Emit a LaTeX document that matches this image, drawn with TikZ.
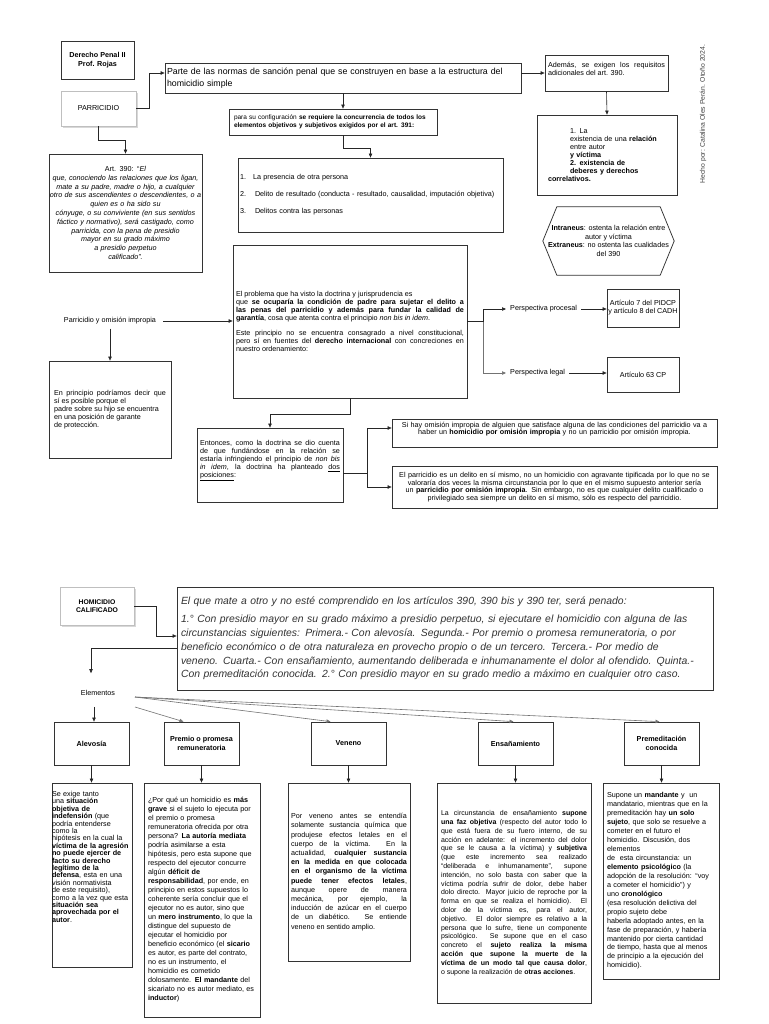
\documentclass[tikz,border=0pt]{standalone}
\usepackage{fontspec}
\setmainfont{Liberation Sans}
\usetikzlibrary{arrows.meta, positioning, calc, shadows}
\setlength{\parindent}{0pt}

\tikzset{
  caja/.style={draw=black!80, line width=0.75pt, inner sep=2pt, align=center,
    font=\fontsize{7.2}{8}\selectfont},
  sombra/.style={caja, draw=black!25, fill=white,
    drop shadow={shadow xshift=1.5pt, shadow yshift=-1.8pt, opacity=0.3}},
  elem/.style={caja, minimum width=75pt, minimum height=43pt,
    font=\fontsize{7.2}{9}\selectfont\bfseries},
  flecha/.style={draw=black!85, line width=0.6pt, -{Triangle[length=4pt, width=3.4pt]}},
  rama/.style={flecha, draw=black!55},
  texto/.style={inner sep=1pt, font=\fontsize{7.2}{8}\selectfont},
}

\begin{document}
\begin{tikzpicture}[x=1pt, y=-1pt]
\useasboundingbox[fill=white] (0,0) rectangle (768,1024);

% parricidio
\node[caja, minimum width=73pt, minimum height=38pt, font=\fontsize{7.2}{9}\selectfont\bfseries] (curso) at (97.5,60) {Derecho Penal II\\Prof. Rojas};
\node[sombra, minimum width=75pt, minimum height=35pt] (parr) at (98.5,108.5) {PARRICIDIO};
\node[caja, minimum width=153pt, minimum height=118pt, text width=153pt, inner xsep=0pt, font=\fontsize{7.2}{8.8}\selectfont] (art) at (125.5,213) {Art. 390: “\textit{El}\\ \itshape que, conociendo las relaciones que los ligan,\\mate a su padre, madre o hijo, a cualquier\\otro de sus ascendientes o descendientes, o a\\quien es o ha sido su\\cónyuge, o su conviviente (en sus sentidos\\fáctico y normativo), será castigado, como\\parricida, con la pena de presidio\\mayor en su grado máximo\\a presidio perpetuo\\calificado”.};
\node[caja, minimum width=356pt, minimum height=30pt, text width=352pt, align=left, font=\fontsize{8.8}{12}\selectfont] (titulo) at (343,78) {Parte de las normas de sanción penal que se construyen en base a la estructura del\\homicidio simple};
\node[caja, minimum width=123pt, minimum height=36pt, text width=117pt, align=justify] (ademas) at (606.5,73) {Además, se exigen los requisitos\linebreak adicionales del art. 390.\\[1pt]\mbox{}};
\node[caja, minimum width=140pt, minimum height=80pt, text width=118pt, align=left, font=\fontsize{7.2}{7.9}\selectfont] (requisitos) at (607,155) {\leftskip=22pt 1. La\\existencia de una \textbf{relación}\\entre autor\\\textbf{y víctima}\\\textbf{2. existencia de}\\\textbf{deberes y derechos}\\\textbf{correlativos.}};
\node[texto, rotate=90, text=black!75, font=\fontsize{6.8}{8}\selectfont] (credito) at (703,114) {Hecho por: Catalina Oles Perán. Otoño 2024.};
\node[minimum width=131pt, minimum height=68pt, inner sep=0pt, align=center, font=\fontsize{7.2}{8.7}\selectfont] (intra) at (608.5,241) {\textbf{Intraneus}: ostenta la relación entre\\autor y víctima\\\textbf{Extraneus}: no ostenta las cualidades\\del 390};
\draw[draw=black!80, line width=0.75pt] (intra.west) -- ([xshift=14pt]intra.north west) -- ([xshift=-14pt]intra.north east) -- (intra.east) -- ([xshift=-14pt]intra.south east) -- ([xshift=14pt]intra.south west) -- cycle;

\node[caja, minimum width=208pt, minimum height=26pt, text width=198pt, align=left, font=\fontsize{6.5}{7.8}\selectfont] (configura) at (333,122) {para su configuración \textbf{se requiere la concurrencia de todos los}\\\textbf{elementos objetivos y subjetivos exigidos por el art. 391:}};
\node[caja, minimum width=265pt, minimum height=74pt, text width=261pt, inner xsep=1pt, align=left] (lista) at (370.5,195) {1.\hspace{7pt}La presencia de otra persona\\[9pt]2.\hspace{9pt}Delito de resultado (conducta - resultado, causalidad, imputación objetiva)\\[9pt]3.\hspace{9pt}Delitos contra las personas};

% omision impropia
\node[texto] (omision) at (110,321) {Parricidio y omisión impropia};
\node[caja, minimum width=234pt, minimum height=153pt, text width=228pt, align=justify] (problema) at (350,321.5) {El problema que ha visto la doctrina y jurisprudencia es\\que \textbf{se ocuparía la condición de padre para sujetar el delito a}\linebreak\textbf{las penas del parricidio y además para fundar la calidad de}\linebreak\textbf{garantía}, cosa que atenta contra el principio \textit{non bis in idem}.\par\vspace{7pt}Este principio no se encuentra consagrado a nivel constitucional,\linebreak pero sí en fuentes del \textbf{derecho internacional} con concreciones en\linebreak nuestro ordenamiento:};
\node[caja, minimum width=122pt, minimum height=97pt, text width=112pt, align=justify] (principio) at (110,409.5) {En principio podríamos decir que\linebreak sí es posible porque el\\padre sobre su hijo se encuentra\\en una posición de garante\\de protección.};
\node[texto, anchor=west, inner xsep=4pt] (procesal) at (506,309) {Perspectiva procesal};
\node[texto, anchor=west, inner xsep=4pt] (legal) at (506,373) {Perspectiva legal};
\node[caja, minimum width=72pt, minimum height=38pt, inner sep=0pt] (pidcp) at (643,308) {Artículo 7 del PIDCP\\y artículo 8 del CADH};
\node[caja, minimum width=72pt, minimum height=35pt] (cp63) at (643,374.5) {Artículo 63 CP};
\node[caja, minimum width=146pt, minimum height=74pt, text width=140pt, align=justify, font=\fontsize{7.2}{7.9}\selectfont] (entonces) at (270,465) {Entonces, como la doctrina se dio cuenta\linebreak de que fundándose en la relación se\linebreak estaría infringiendo el principio de \textit{non bis}\linebreak \textit{in idem}, la doctrina ha planteado \underline{dos}\linebreak \underline{posiciones}:\\[4pt]\mbox{}};
\node[caja, minimum width=325pt, minimum height=28pt, text width=321pt, font=\fontsize{7.2}{7.6}\selectfont] (sihay) at (554.5,433) {Si hay omisión impropia de alguien que satisface alguna de las condiciones del parricidio va a\\haber un \textbf{homicidio por omisión impropia} y no un parricidio por omisión impropia.\\[2pt]\mbox{}};
\node[caja, minimum width=325pt, minimum height=42pt, text width=321pt, font=\fontsize{7.2}{7.6}\selectfont] (elparr) at (554.5,487) {El parricidio es un delito en sí mismo, no un homicidio con agravante tipificada por lo que no se\\valoraría dos veces la misma circunstancia por lo que en el mismo supuesto anterior sería\\un \textbf{parricidio por omisión impropia}. Sin embargo, no es que cualquier delito cualificado o\\privilegiado sea siempre un delito en sí mismo, sólo es respecto del parricidio.};

\draw[flecha] (parr.east) -- ++(13,0) |- ([yshift=5pt]titulo.west);
\draw[flecha] (parr.south) -- ++(0,14) -| (art.north);
\draw[flecha] ([yshift=5pt]titulo.east) -- (ademas.west);
\draw[flecha] (ademas.south) -- (requisitos.north);
\draw[flecha] (titulo.south) -- (titulo.south |- configura.north);
\draw[flecha] (titulo.south |- configura.south) -- ++(0,13) -| (lista.north);
\draw[flecha] (omision.east) ++(6,0) -- (omision.east -| problema.west);
\draw[flecha] ([yshift=-3pt]omision.south) -- (principio.north);
\draw[flecha] (problema.east) -- ++(16,0) |- (procesal.west);
\draw[rama] ([xshift=16pt]problema.east) |- (legal.west);
\draw[flecha] (procesal.east) -- (procesal.east -| pidcp.west);
\draw[flecha] (legal.east) -- (legal.east -| cp63.west);
\draw[flecha] (problema.south) -- ++(0,16) -| (entonces.north);
\draw[flecha] ([yshift=-8pt]entonces.east) -- ++(24,0) |- ([yshift=5pt]sihay.west);
\draw[flecha] ([yshift=-8pt]entonces.east) ++(24,0) |- (elparr.west);

% homicidio calificado
\node[sombra, minimum width=74pt, minimum height=38pt, font=\fontsize{6.8}{8.6}\selectfont\bfseries] (homcal) at (97,606) {HOMICIDIO\\CALIFICADO};
\node[caja, minimum width=536pt, minimum height=103pt, text width=528pt, align=left, text=black!80, font=\fontsize{10.4}{13.7}\selectfont\itshape] (penado) at (445,638.5) {El que mate a otro y no esté comprendido en los artículos 390, 390 bis y 390 ter, será penado:\\[4.5pt]1.° Con presidio mayor en su grado máximo a presidio perpetuo, si ejecutare el homicidio con alguna de las\\circunstancias siguientes: Primera.- Con alevosía. Segunda.- Por premio o promesa remuneratoria, o por\\beneficio económico o de otra naturaleza en provecho propio o de un tercero. Tercera.- Por medio de\\veneno. Cuarta.- Con ensañamiento, aumentando deliberada e inhumanamente el dolor al ofendido. Quinta.-\\Con premeditación conocida. 2.° Con presidio mayor en su grado medio a máximo en cualquier otro caso.};
\node[texto] (elementos) at (98,693) {Elementos};
\coordinate (abanico) at (135,697);

\node[elem] (alevosia) at (91.5,743.5) {Alevosía};
\node[elem] (premio) at (201.5,743.5) {Premio o promesa\\remuneratoria};
\node[elem] (veneno) at (348.5,743.5) {Veneno};
\node[elem] (ensana) at (515.5,743.5) {Ensañamiento};
\node[elem] (premed) at (661.5,743.5) {Premeditación\\conocida};

\node[caja, minimum width=80pt, minimum height=184pt, text width=80pt, inner xsep=0pt, inner ysep=1pt, align=left, font=\fontsize{7.2}{7.4}\selectfont] (txt-alevosia) at (92,875) {Se exige tanto\\una \textbf{situación}\\\textbf{objetiva de}\\\textbf{indefensión} (que\\podría entenderse\\como la\\hipótesis en la cual la\\\textbf{víctima de la agresión}\\\textbf{no puede ejercer de}\\\textbf{facto su derecho}\\\textbf{legítimo de la}\\\textbf{defensa}, esta en una\\visión normativista\\de este requisito),\\como a la vez que esta\\\textbf{situación sea}\\\textbf{aprovechada por el}\\\textbf{autor}.\\[29pt]\mbox{}};
\node[caja, minimum width=116pt, minimum height=234pt, text width=108pt, align=left, font=\fontsize{7.2}{9}\selectfont] (txt-premio) at (202,900) {¿Por qué un homicidio es \textbf{más}\\\textbf{grave} si el sujeto lo ejecuta por\\el premio o promesa\\remuneratoria ofrecida por otra\\persona? \textbf{La autoría mediata}\\podría asimilarse a esta\\hipótesis, pero esta supone que\\respecto del ejecutor concurre\\algún \textbf{déficit de}\\\textbf{responsabilidad}, por ende, en\\principio en estos supuestos lo\\coherente sería concluir que el\\ejecutor no es autor, sino que\\un \textbf{mero instrumento}, lo que la\\distingue del supuesto de\\ejecutar el homicidio por\\beneficio económico (el \textbf{sicario}\\es autor, es parte del contrato,\\no es un instrumento, el\\homicidio es cometido\\dolosamente. \textbf{El mandante} del\\sicariato no es autor mediato, es\\\textbf{inductor})};
\node[caja, minimum width=122pt, minimum height=178pt, text width=116pt, align=justify, font=\fontsize{7.2}{9.2}\selectfont] (txt-veneno) at (349,872) {Por veneno antes se entendía\linebreak solamente sustancia química que\linebreak produjese efectos letales en el\linebreak cuerpo de la víctima. En la\linebreak actualidad, \textbf{cualquier sustancia}\linebreak \textbf{en la medida en que colocada}\linebreak \textbf{en el organismo de la víctima}\linebreak \textbf{puede tener efectos letales},\linebreak aunque opere de manera\linebreak mecánica, por ejemplo, la\linebreak inducción de azúcar en el cuerpo\linebreak de un diabético. Se entiende\linebreak veneno en sentido amplio.};
\node[caja, minimum width=154pt, minimum height=220pt, text width=146pt, align=justify, font=\fontsize{7}{8.8}\selectfont] (txt-ensana) at (514,893) {La circunstancia de ensañamiento \textbf{supone}\linebreak \textbf{una faz objetiva} (respecto del autor todo lo\linebreak que está fuera de su fuero interno, de su\linebreak acción en adelante: el incremento del dolor\linebreak que se le causa a la víctima) y \textbf{subjetiva}\linebreak (que este incremento sea realizado\linebreak “deliberada e inhumanamente”, supone\linebreak intención, no solo basta con saber que la\linebreak víctima podría sufrir de dolor, debe haber\linebreak dolo directo. Mayor juicio de reproche por la\linebreak forma en que se realiza el homicidio). El\linebreak dolor de la víctima es, para el autor,\linebreak objetivo. El dolor siempre es relativo a la\linebreak persona que lo sufre, tiene un componente\linebreak psicológico. Se supone que en el caso\linebreak concreto el \textbf{sujeto realiza la misma}\linebreak \textbf{acción que supone la muerte de la}\linebreak \textbf{víctima de un modo tal que causa dolor},\linebreak o supone la realización de \textbf{otras acciones}.};
\node[caja, minimum width=116pt, minimum height=196pt, text width=108pt, align=left, font=\fontsize{7.2}{8.95}\selectfont] (txt-premed) at (661,881) {Supone un \textbf{mandante} y\ \ un\\mandatario, mientras que en la\\premeditación hay \textbf{un solo}\\\textbf{sujeto}, que solo se resuelve a\\cometer en el futuro el\\homicidio. Discusión, dos\\elementos\\de\ \ esta circunstancia: un\\\textbf{elemento psicológico} (la\\adopción de la resolución: “voy\\a cometer el homicidio”) y\\uno \textbf{cronológico}\\(esa resolución delictiva del\\propio sujeto debe\\haberla adoptado antes, en la\\fase de preparación, y habería\\mantenido por cierta cantidad\\de tiempo, hasta que al menos\\de principio a la ejecución del\\homicidio).};

\draw[flecha] (homcal.east) -- ++(22,0) |- ([yshift=2.5pt]penado.west);
\draw[flecha] ([yshift=-9.5pt]penado.west) -| ([xshift=-7pt, yshift=16pt]elementos.north);
\draw[flecha] ([xshift=2.5pt]alevosia.north |- elementos.south) ++(0,10) -- ([xshift=2.5pt]alevosia.north);
\draw[rama] ([yshift=-10pt]abanico) -- ([xshift=-18pt]premio.north);
\draw[rama] (abanico) -- ([xshift=-18pt]veneno.north);
\draw[rama] (abanico) -- ([xshift=-2pt]ensana.north);
\draw[rama] (abanico) -- ([xshift=-2pt]premed.north);
\foreach \a in {alevosia, premio, veneno, ensana, premed}
  \draw[flecha] (\a.south) -- (\a.south |- txt-\a.north);
\end{tikzpicture}
\end{document}
